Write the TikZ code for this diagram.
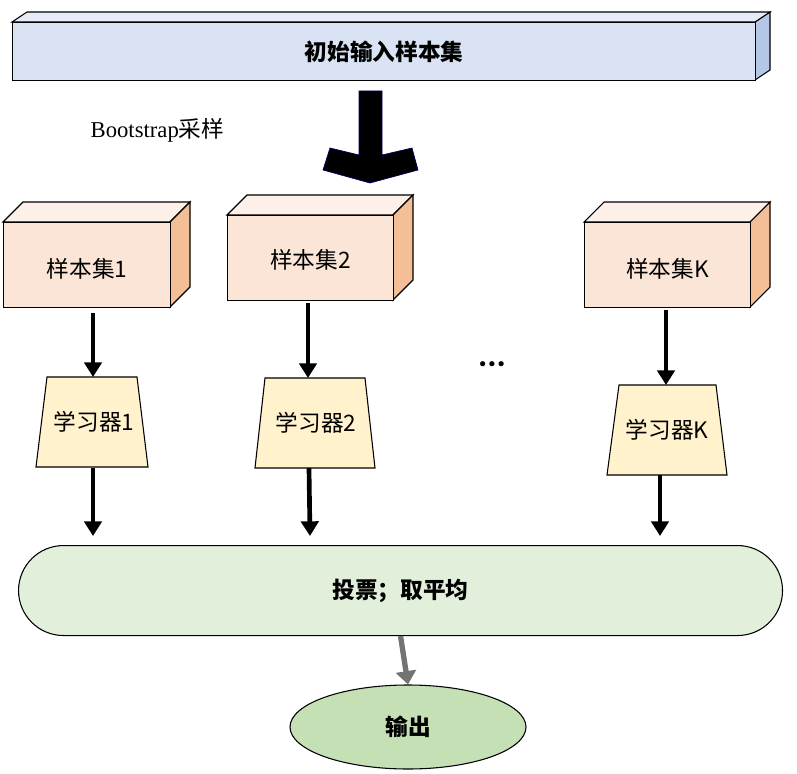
\documentclass[tikz,border=0pt]{standalone}
\usepackage{fontspec}
\setmainfont{Carlito}
\newfontfamily\cjk{Noto Sans CJK SC}
\newfontfamily\serif{Liberation Serif}
\usetikzlibrary{shapes.geometric,arrows.meta}
\definecolor{barF}{HTML}{DAE3F3}\definecolor{barS}{HTML}{B4C7E7}
\definecolor{boxF}{HTML}{FBE5D6}\definecolor{boxT}{HTML}{FDF0E8}\definecolor{boxS}{HTML}{F4BE96}
\definecolor{lrn}{HTML}{FFF2CC}\definecolor{vote}{HTML}{E2EFDA}\definecolor{outc}{HTML}{C5E0B4}
\tikzset{x=0.75pt,y=-0.75pt,
 ln/.style={draw=black,line width=0.8pt},
 ar/.style={-{Triangle[length=11pt,width=13pt]},line width=3.5pt},
 lab/.style={font=\cjk\fontsize{17}{20}\selectfont},
 blab/.style={font=\cjk\bfseries\fontsize{17}{20}\selectfont}}
\newcommand{\mybox}[5]{% name x1 y1 x2 y2 (front), depth 20
 \fill[boxT,ln] (#2,#3)--(#2+20,#3-20)--(#4+20,#3-20)--(#4,#3)--cycle;
 \fill[boxS,ln] (#4,#3)--(#4+20,#3-20)--(#4+20,#5-20)--(#4,#5)--cycle;
 \node[fill=boxF,ln,minimum width={(#4-#2)*0.75pt},minimum height={(#5-#3)*0.75pt},anchor=north west,inner sep=0] (#1) at (#2,#3) {};}
\newcommand{\mytrap}[7]{% name ytop ybot xtl xtr xbl xbr
 \fill[lrn,ln] (#4,#2)--(#5,#2)--(#7,#3)--(#6,#3)--cycle;
 \coordinate (#1t) at ({(#4+#5)/2},#2); \coordinate (#1b) at ({(#6+#7)/2},#3);}
\begin{document}
\begin{tikzpicture}
\useasboundingbox (0,0) rectangle (797,774);
% top bar
\fill[barS,ln] (755,22)--(770,12)--(770,70)--(755,80)--cycle;
\fill[barF!70!white,ln] (12,22)--(27,12)--(770,12)--(755,22)--cycle;
\node[fill=barF,ln,minimum width={743*0.75pt},minimum height={58*0.75pt},anchor=north west,inner sep=0] (bar) at (12,22) {};
\node[blab] at (bar.center) {初始输入样本集};
\node[font=\fontsize{17}{20}\selectfont,anchor=west] (bs) at (86,130) {{\serif Bootstrap}{\cjk 采样}};
\fill[black,draw=black!60!blue,line width=0.5pt] (359,91)--(382,91)--(382,155)--(412,148)--(418,170)--(370,183)--(323,170)--(330,148)--(359,155)--cycle;
% boxes
\mybox{s1}{3}{222}{170}{307}
\mybox{s2}{227}{215}{393}{300}
\mybox{sk}{584}{222}{750}{307}
\node[lab] at ([yshift=-3pt]s1.center) {样本集1};
\node[lab] at ([yshift=-1pt]s2.center) {样本集2};
\node[lab] at ([yshift=-3pt]sk.center) {样本集K};
\node[font=\bfseries\fontsize{26}{26}\selectfont] (dots) at (492,364) {...};
% learners
\mytrap{l1}{377}{467}{47}{137}{36}{148}
\mytrap{l2}{378}{468}{265}{365}{255}{375}
\mytrap{lk}{385}{475}{619}{716}{607}{727}
\node[lab] (t1) at (94,422) {学习器1};
\node[lab] (t2) at (316,423) {学习器2};
\node[lab] (tk) at (667,430) {学习器K};
% vote and output
\node[fill=vote,ln,rounded corners=45*0.75pt,minimum width={764*0.75pt},minimum height={90*0.75pt},anchor=north west,inner sep=0] (v) at (18,545) {};
\node[blab] at (v.center) {投票；取平均};
\node[ellipse,fill=outc,ln,minimum width={236*0.75pt},minimum height={84*0.75pt}] (o) at (408,727) {};
\node[blab] at (o.center) {输出};
% arrows
\coordinate (a1) at (93,313); \coordinate (a2) at (308,303); \coordinate (ak) at (666,310);
\draw[ar] (a1) -- (a1 |- l1t);
\draw[ar] (a2) -- (a2 |- l2t);
\draw[ar] (ak) -- (ak |- lkt);
\draw[ar] (93,468) -- (93,536);
\draw[ar] (309,468) -- (310,536);
\draw[ar] (660,475) -- (660,536);
\draw[line width=4pt,draw=gray!90!black,-{Triangle[length=10pt,width=15pt]}] (v.south) -- (o.north);
\end{tikzpicture}
\end{document}
